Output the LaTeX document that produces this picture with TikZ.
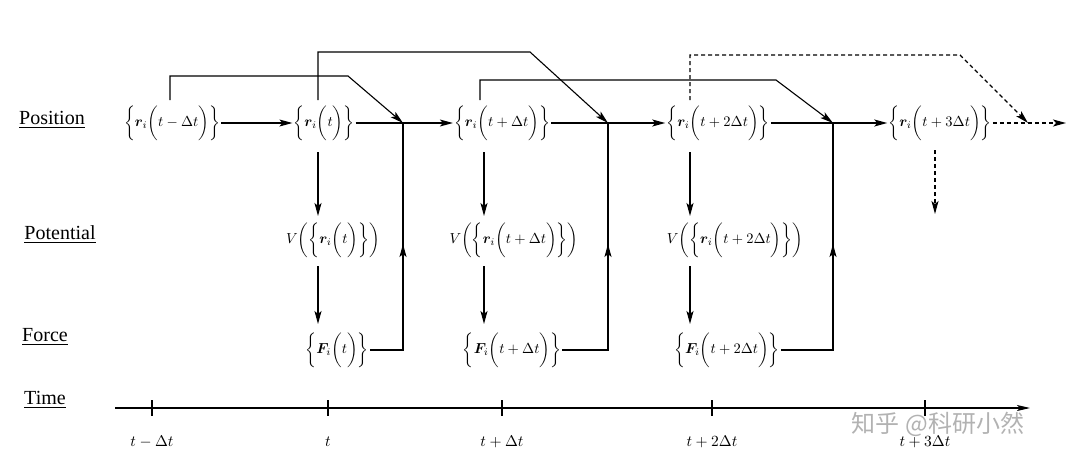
\documentclass[tikz,border=0pt]{standalone}
\usepackage{amsmath,bm,graphicx}
\usepackage{fontspec}
\setmainfont{Liberation Serif}
\newfontfamily\cjk{Noto Sans CJK SC}
\usetikzlibrary{arrows.meta}
\newcommand{\Lb}{\biggl\{}
\newcommand{\Rb}{\biggr\}}
\newcommand{\Lp}{\biggl(}
\newcommand{\Rp}{\biggr)}
\newcommand{\mym}[1]{\scalebox{1.45}{$#1$}}
\newcommand{\myt}[1]{\scalebox{1.55}{$#1$}}
\begin{document}
\begin{tikzpicture}[x=1pt,y=-1pt,
  ln/.style={line width=1.1pt},
  arr/.style={ln,-{Stealth[length=13pt,width=7pt,inset=3pt]}},
  dsh/.style={dashed,dash pattern=on 4pt off 3pt},
  mth/.style={inner sep=1pt},
  lbl/.style={font=\fontsize{20}{24}\selectfont},
  tk/.style={}]
\useasboundingbox (0,0) rectangle (1080,469);
% row labels
\node[lbl] (lpos) at (52,120) {\underline{Position}};
\node[lbl] (lpot) at (60,235) {\underline{Potential}};
\node[lbl] (lfor) at (45,337) {\underline{Force}};
\node[lbl] (ltim) at (45,400) {\underline{Time}};
% position nodes
\node[mth] (r0) at (172,123) {\mym{\Lb\bm r_i\Lp t-\Delta t\Rp\Rb}};
\node[mth] (r1) at (324,123) {\mym{\Lb\bm r_i\Lp t\Rp\Rb}};
\node[mth] (r2) at (502,123) {\mym{\Lb\bm r_i\Lp t+\Delta t\Rp\Rb}};
\node[mth] (r3) at (718,123) {\mym{\Lb\bm r_i\Lp t+2\Delta t\Rp\Rb}};
\node[mth] (r4) at (940,123) {\mym{\Lb\bm r_i\Lp t+3\Delta t\Rp\Rb}};
% potentials
\node[mth] (v1) at (333,240) {\mym{V\Lp\Lb\bm r_i\Lp t\Rp\Rb\Rp}};
\node[mth] (v2) at (514,240) {\mym{V\Lp\Lb\bm r_i\Lp t+\Delta t\Rp\Rb\Rp}};
\node[mth] (v3) at (735,240) {\mym{V\Lp\Lb\bm r_i\Lp t+2\Delta t\Rp\Rb\Rp}};
% forces
\node[mth] (f1) at (337,350) {\mym{\Lb\bm F_i\Lp t\Rp\Rb}};
\node[mth] (f2) at (512,350) {\mym{\Lb\bm F_i\Lp t+\Delta t\Rp\Rb}};
\node[mth] (f3) at (727,350) {\mym{\Lb\bm F_i\Lp t+2\Delta t\Rp\Rb}};
% junctions
\coordinate (j1) at (403,123);
\coordinate (j2) at (608,123);
\coordinate (j3) at (833,123);
\coordinate (j4) at (1028,123);
\coordinate (e4) at (1066,123);
% horizontal flow
\draw[arr] (r0.east) -- (r1.west);
\draw[ln] (r1.east) -- (j1); \draw[arr] (j1) -- (r2.west);
\draw[ln] (r2.east) -- (j2); \draw[arr] (j2) -- (r3.west);
\draw[ln] (r3.east) -- (j3); \draw[arr] (j3) -- (r4.west);
\draw[ln,dsh,-{Stealth[length=13pt,width=7pt,inset=3pt]}] (r4.east) -- (e4);
% bypass lines
\draw[arr] (170,100) -- (170,76) -- (348,76) -- (j1);
\draw[arr] (318,100) -- (318,52) -- (530,52) -- (j2);
\draw[arr] (480,100) -- (480,80) -- (776,80) -- (j3);
\draw[ln,dsh,-{Stealth[length=13pt,width=7pt,inset=3pt]}] (690,100) -- (690,55) -- (960,55) -- (j4);
% down arrows
\draw[arr] (318,152) -- (318,216);
\draw[arr] (318,266) -- (318,324);
\draw[arr] (484,152) -- (484,216);
\draw[arr] (484,266) -- (484,324);
\draw[arr] (690,152) -- (690,216);
\draw[arr] (690,266) -- (690,324);
\draw[ln,dsh,-{Stealth[length=13pt,width=7pt,inset=3pt]}] (935,150) -- (935,214);
% up arrows from forces
\foreach \f/\x/\j in {f1/403/j1,f2/608/j2,f3/833/j3}{
  \draw[ln] (\f.east) -- (\x,350) -- (\x,245);
  \draw[arr] (\x,300) -- (\x,244);
  \draw[ln] (\x,250) -- (\j);
}
% time axis
\coordinate (a0) at (115,408);
\coordinate (a1) at (1030,408);
\draw[ln,-{Stealth[length=13pt,width=6pt,inset=3pt]}] (a0) -- (a1);
\foreach \x/\t/\n in {152/{t-\Delta t}/ta,328/{t}/tb,502/{t+\Delta t}/tc,712/{t+2\Delta t}/td,925/{t+3\Delta t}/te}{
  \draw[ln] (\x,400) -- (\x,416);
  \node[tk] (\n) at (\x,442) {\myt{\t}};
}
\node[font=\cjk\fontsize{24}{28}\selectfont,text=black!30] (wm) at (938,424) {知乎 @科研小然};
\end{tikzpicture}
\end{document}
